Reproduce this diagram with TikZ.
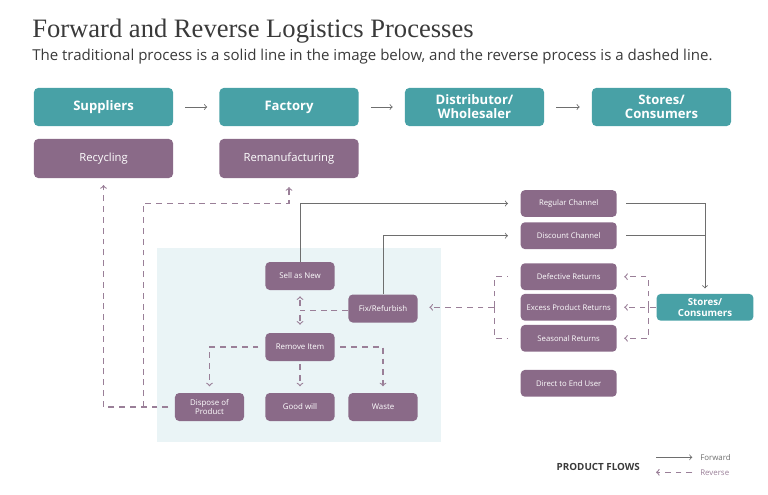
\documentclass[tikz,border=0pt]{standalone}
\usepackage{fontspec}
\setmainfont{Open Sans}
\newfontfamily\titlefont{Liberation Serif}
\usepackage{tikz}
\usetikzlibrary{positioning}

\definecolor{tealc}{HTML}{48A1A6}
\definecolor{purplec}{HTML}{8A6A88}
\definecolor{panelc}{HTML}{EAF4F6}
\definecolor{revc}{HTML}{9A7F98}
\definecolor{fwdc}{HTML}{6E6E6E}
\definecolor{textc}{HTML}{3A3A3A}

\tikzset{
  mainbox/.style={fill=tealc, rounded corners=3pt, text=white, align=center,
    font=\bfseries\fontsize{9.3}{10}\selectfont, inner sep=0pt,
    minimum width=3.475cm, minimum height=0.95cm},
  backbox/.style={fill=purplec, rounded corners=3pt, text=white, align=center,
    font=\fontsize{8}{9}\selectfont, inner sep=0pt,
    minimum width=3.475cm, minimum height=0.975cm},
  smallbox/.style={fill=purplec, rounded corners=3pt, text=white, align=center,
    font=\fontsize{5.6}{6.4}\selectfont, inner sep=0pt,
    minimum width=1.725cm, minimum height=0.7cm},
  chanbox/.style={fill=purplec, rounded corners=3pt, text=white, align=center,
    font=\fontsize{5.5}{6.4}\selectfont, inner sep=0pt,
    minimum width=2.4cm, minimum height=0.67cm},
  fwd/.style={draw=fwdc, line width=0.6pt, ->},
  fwdline/.style={draw=fwdc, line width=0.6pt},
  rev/.style={draw=revc, line width=0.8pt, dash pattern=on 4.2pt off 3.5pt, ->},
  revline/.style={draw=revc, line width=0.8pt, dash pattern=on 4.2pt off 3.5pt}
}

\begin{document}
\begin{tikzpicture}[x=0.025cm, y=-0.025cm]
\useasboundingbox (0,0) rectangle (768,494);

% Titolo e sottotitolo
\node[anchor=base west, inner sep=0pt, text=textc, font=\titlefont\fontsize{18.9}{21}\selectfont] (title) at (32,37.3) {Forward and Reverse Logistics Processes};
\node[anchor=base west, inner sep=0pt, text=textc, font=\fontsize{10.7}{12}\selectfont] (subtitle) at (32,60.7) {The traditional process is a solid line in the image below, and the reverse process is a dashed line.};

% Catena diretta
\node[mainbox] (suppliers) at (103.5,107) {Suppliers};
\node[mainbox] (factory) at (289,107) {Factory};
\node[mainbox] (distributor) at (474.5,107) {Distributor/\\Wholesaler};
\node[mainbox] (stores) at (661.5,107) {Stores/\\Consumers};
\draw[fwd, shorten <=0.3cm, shorten >=0.3cm] (suppliers) -- (factory);
\draw[fwd, shorten <=0.3cm, shorten >=0.3cm] (factory) -- (distributor);
\draw[fwd, shorten <=0.3cm, shorten >=0.3cm] (distributor) -- (stores);

% Processi inversi
\node[backbox] (recycling) at (103.5,158.5) {Recycling};
\node[backbox] (remanuf) at (289,158.5) {Remanufacturing};

% Area di smistamento
\fill[panelc] (157,248) rectangle (441,442);
\node[smallbox] (sellnew) at (300,276) {Sell as New};
\node[smallbox] (fix) at (383,308.5) {Fix/Refurbish};
\node[smallbox] (remove) at (300,347) {Remove Item};
\node[smallbox] (dispose) at (209.5,407) {Dispose of\\Product};
\node[smallbox] (goodwill) at (300,407) {Good will};
\node[smallbox] (waste) at (383,407) {Waste};

% Canali e resi
\node[chanbox] (regular) at (568.7,203.5) {Regular Channel};
\node[chanbox] (discount) at (568.7,235.7) {Discount Channel};
\node[chanbox] (defective) at (568.7,276.7) {Defective Returns};
\node[chanbox] (excess) at (568.7,307.3) {Excess Product Returns};
\node[chanbox] (seasonal) at (568.7,338.3) {Seasonal Returns};
\node[chanbox] (direct) at (568.7,383.3) {Direct to End User};
\node[mainbox, minimum width=2.42cm, minimum height=0.67cm, font=\bfseries\fontsize{6.9}{7.6}\selectfont] (storesr) at (705,307.3) {Stores/\\Consumers};

% Flussi diretti
\draw[fwd, shorten >=0.31cm] (sellnew.north) |- (regular.west);
\draw[fwd, shorten >=0.31cm] (fix.north) |- (discount.west);
\draw[fwd, shorten <=0.225cm, shorten >=0.13cm] (regular.east) -| (storesr.north);
\draw[fwdline, shorten <=0.225cm] (discount.east) -- (discount.east -| storesr.north);

% Flussi inversi dai negozi
\coordinate (rb) at (648.3,307.3);
\draw[rev, shorten >=0.18cm] (storesr.west) -- (excess.east);
\draw[rev, shorten >=0.18cm] (rb) |- (defective.east);
\draw[rev, shorten >=0.18cm] (rb) |- (seasonal.east);
\coordinate (lb) at (494.3,307.3);
\draw[revline, shorten >=0.32cm] (lb) |- (defective.west);
\draw[revline, shorten >=0.32cm] (lb) |- (seasonal.west);
\draw[rev, shorten >=0.29cm] (lb) -- (lb -| fix.east);

% Smistamento interno
\coordinate (fx) at (300,310.5);
\draw[revline] (fix.west |- fx) -- (fx);
\draw[rev, shorten <=0.12cm, shorten >=0.15cm] (fx) -- (sellnew.south);
\draw[rev, shorten <=0.12cm, shorten >=0.2cm] (fx) -- (remove.north);
\draw[rev, shorten <=0.17cm, shorten >=0.16cm] (remove.west) -| (dispose.north);
\draw[rev, shorten <=0.14cm, shorten >=0.16cm] (remove.east) -| (waste.north);
\draw[rev, shorten <=0.08cm, shorten >=0.16cm] (remove.south) -- (goodwill.north);

% Ritorno a riciclo e rigenerazione
\draw[rev, shorten <=0.16cm, shorten >=0.17cm] (dispose.west) -| (recycling.south);
\coordinate (jn) at (143.3,407);
\draw[rev, shorten >=0.22cm] (jn) -- ++(0,-203.7) -| (remanuf.south);

% Legenda
\node[font=\bfseries\fontsize{7}{8}\selectfont, text=textc] (flows) at (598.3,466.7) {PRODUCT FLOWS};
\coordinate (fwdA) at (656,457.3);
\coordinate (fwdB) at (692.3,457.3);
\draw[fwd] (fwdA) -- (fwdB);
\node[anchor=west, inner sep=0pt, text=fwdc, font=\fontsize{5.6}{6.4}\selectfont] (fwdlbl) at (700,457.3) {Forward};
\coordinate (revA) at (656,472.3);
\coordinate (revB) at (692.3,472.3);
\draw[rev] (revB) -- (revA);
\node[anchor=west, inner sep=0pt, text=revc, font=\fontsize{5.6}{6.4}\selectfont] (revlbl) at (700,472.3) {Reverse};
\end{tikzpicture}
\end{document}
